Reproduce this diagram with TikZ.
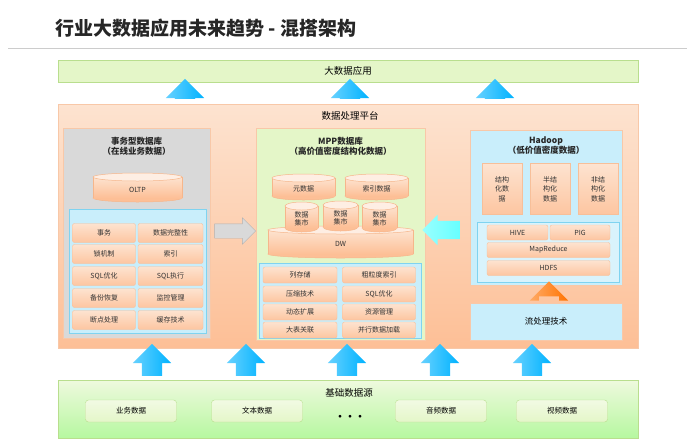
\documentclass[tikz,border=0pt]{standalone}
\usepackage{fontspec}
\setmainfont{Noto Sans CJK SC}
\usetikzlibrary{shapes.arrows,calc}
\definecolor{org}{HTML}{FDBF96}
\definecolor{orgl}{HTML}{FDE3D0}
\definecolor{orgb}{HTML}{F4A46E}
\definecolor{grn}{HTML}{E4F6C8}
\definecolor{grnb}{HTML}{B9DE8E}
\definecolor{blu}{HTML}{C9EEFB}
\definecolor{blub}{HTML}{7FD3F0}
\definecolor{gry}{HTML}{D9D9D9}
\tikzset{
 panel/.style={draw=#1,line width=0.8pt,inner sep=0pt},
 item/.style={draw=orgb!70,rounded corners=2pt,top color=orgl,bottom color=org!90,inner sep=0pt,font=\fontsize{7}{8}\selectfont,text=black!80},
 ttl/.style={font=\bfseries\fontsize{8.5}{10}\selectfont,align=center,text=black!85},
 uparr/.style={single arrow,draw=none,rotate=90,left color=#1!60,right color=#1,single arrow head extend=9pt,inner xsep=0pt,inner ysep=10pt},
 cylb/.style={draw=orgb!80,line width=0.5pt},
}
\newcommand\mycyl[6]{%
 \pgfmathsetmacro\cx{(#2+#4)/2}\pgfmathsetmacro\rx{(#4-#2)/2}\pgfmathsetmacro\cy{(#3+#5)/2+2}%
 \fill[org,cylb] (\cx,#5) ellipse [x radius=\rx pt,y radius=4pt];
 \fill[top color=orgl,bottom color=org] (#2,#3) rectangle (#4,#5);
 \draw[cylb] (#2,#3)--(#2,#5) (#4,#3)--(#4,#5);
 \filldraw[fill=orgl!60,cylb] (\cx,#3) ellipse [x radius=\rx pt,y radius=4pt];
 \node[font=\fontsize{7}{8}\selectfont,align=center,text=black!80] (#1) at (\cx,\cy) {#6};}
\begin{document}
\begin{tikzpicture}[x=1pt,y=-1pt]
\useasboundingbox[fill=white] (0,0) rectangle (687,445);
\draw[gray!40] (8,48) -- (687,48);
\node[anchor=west,font=\bfseries\fontsize{19}{22}\selectfont,text=black!85] (title) at (52,28) {行业大数据应用未来趋势 - 混搭架构};
% top bar
\node[panel=grnb,fill=grn,minimum width=580pt,minimum height=22pt,font=\fontsize{9.5}{10}\selectfont] (app) at (348,71) {大数据应用};
\foreach \x/\n in {185/t1,350/t2,495/t3}
 \node[uparr=cyan!70!blue,minimum height=20pt] (\n) at (\x,94) {};
% platform
\node[panel=orgb!60,top color=orgl,bottom color=org,minimum width=580pt,minimum height=244pt] (plat) at (348,226) {};
\node[font=\fontsize{9.5}{10}\selectfont] (platt) at (350,116) {数据处理平台};
% left box
\node[panel=orgb!60,fill=gry,minimum width=147pt,minimum height=210pt] (lb) at (136.5,233) {};
\node[ttl] (lbt) at (136.5,146) {事务型数据库\\（在线业务数据）};
\mycyl{oltp}{93}{177}{182}{198}{OLTP}
\node[panel=blub,fill=blu,minimum width=137pt,minimum height=124pt] (lbi) at (137.5,271) {};
\foreach \t/\y/\n in {事务/233/a1,锁机制/254/a2,SQL优化/276/a3,备份恢复/298/a4,断点处理/320/a5}
 \node[item,minimum width=63pt,minimum height=19pt] (\n) at (104,\y) {\t};
\foreach \t/\y/\n in {数据完整性/233/b1,索引/254/b2,SQL执行/276/b3,监控管理/298/b4,缓存技术/320/b5}
 \node[item,minimum width=65pt,minimum height=19pt] (\n) at (170.5,\y) {\t};
\node[single arrow,draw=gray!60,fill=gry,minimum height=41pt,single arrow head extend=6pt,inner xsep=0pt,inner ysep=7pt] (ga) at (231.5,231) {};
% MPP
\node[panel=orgb!60,fill=grn,minimum width=169pt,minimum height=212pt] (mb) at (340.5,234) {};
\node[ttl] (mbt) at (340.5,146) {MPP数据库\\（高价值密度结构化数据）};
\mycyl{dw}{268}{230}{413}{254}{DW}
\mycyl{meta}{272}{178}{335}{196}{元数据}
\mycyl{idx}{345}{178}{408}{196}{索引数据}
\mycyl{m1}{285}{206}{318}{228}{数据\\集市}
\mycyl{m2}{323}{205}{358}{227}{数据\\集市}
\mycyl{m3}{362}{206}{397}{228}{数据\\集市}
\node[panel=blub,fill=blu,minimum width=162pt,minimum height=75pt] (mbi) at (340.5,301) {};
\foreach \t/\y/\n in {列存储/275/c1,压缩技术/294/c2,动态扩展/312/c3,大表关联/330/c4}
 \node[item,minimum width=74pt,minimum height=16pt] (\n) at (300,\y) {\t};
\foreach \t/\y/\n in {粗粒度索引/275/d1,SQL优化/294/d2,资源管理/312/d3,并行数据加载/330/d4}
 \node[item,minimum width=73pt,minimum height=16pt] (\n) at (379,\y) {\t};
\node[single arrow,draw=none,left color=cyan!40,right color=cyan!60,shape border rotate=180,minimum height=38pt,single arrow head extend=6pt,inner xsep=0pt,inner ysep=9pt] (ba) at (446,230) {};
% Hadoop
\node[panel=orgb!60,fill=blu,minimum width=152pt,minimum height=155pt] (hb) at (546,207.5) {};
\node[ttl] (hbt) at (546,146) {Hadoop\\（低价值密度数据）};
\foreach \t/\x/\n in {结构\\化数\\据/502/h1,半结\\构化\\数据/550/h2,非结\\构化\\数据/598/h3}
 \node[item,rounded corners=0pt,minimum width=40pt,minimum height=51pt,align=center,font=\fontsize{7}{9.5}\selectfont] (\n) at (\x,189) {\t};
\node[panel=blub,fill=blu!70,line width=0.5pt,minimum width=142pt,minimum height=60pt] (hbi) at (548,252) {};
\node[item,minimum width=61pt,minimum height=15pt] (hive) at (517.5,232.5) {HIVE};
\node[item,minimum width=60pt,minimum height=15pt] (pig) at (580,232.5) {PIG};
\node[item,minimum width=123pt,minimum height=15pt] (mr) at (548.5,250) {MapReduce};
\node[item,minimum width=123pt,minimum height=15pt] (hdfs) at (548.5,268) {HDFS};
\node[uparr=orange!90!red,minimum height=15pt] (oa) at (549,294) {};
\node[panel=orgb!60,fill=blu,minimum width=152pt,minimum height=37pt,font=\fontsize{8.5}{9}\selectfont] (sp) at (546,321.5) {流处理技术};
% bottom arrows
\foreach \x/\n in {152/u1,246/u2,347/u3,440/u4,532/u5}
 \node[uparr=cyan!70!blue,minimum height=32pt] (\n) at (\x,365) {};
% bottom panel
\node[panel=grnb,top color=grn!60,bottom color=grn!80!green,minimum width=580pt,minimum height=58pt] (src) at (348,409) {};
\node[font=\fontsize{9.5}{10}\selectfont] (srct) at (349,393) {基础数据源};
\foreach \t/\x/\n in {业务数据/131/s1,文本数据/257/s2,音频数据/441/s3,视频数据/562/s4}
 \node[draw=grnb,rounded corners=3pt,top color=grn!50,bottom color=grn,minimum width=91pt,minimum height=22pt,inner sep=0pt,font=\fontsize{7.5}{8}\selectfont] (\n) at (\x,411) {\t};
\node[font=\bfseries\fontsize{10}{10}\selectfont] (dots) at (350,418) {•••};
\end{tikzpicture}
\end{document}
